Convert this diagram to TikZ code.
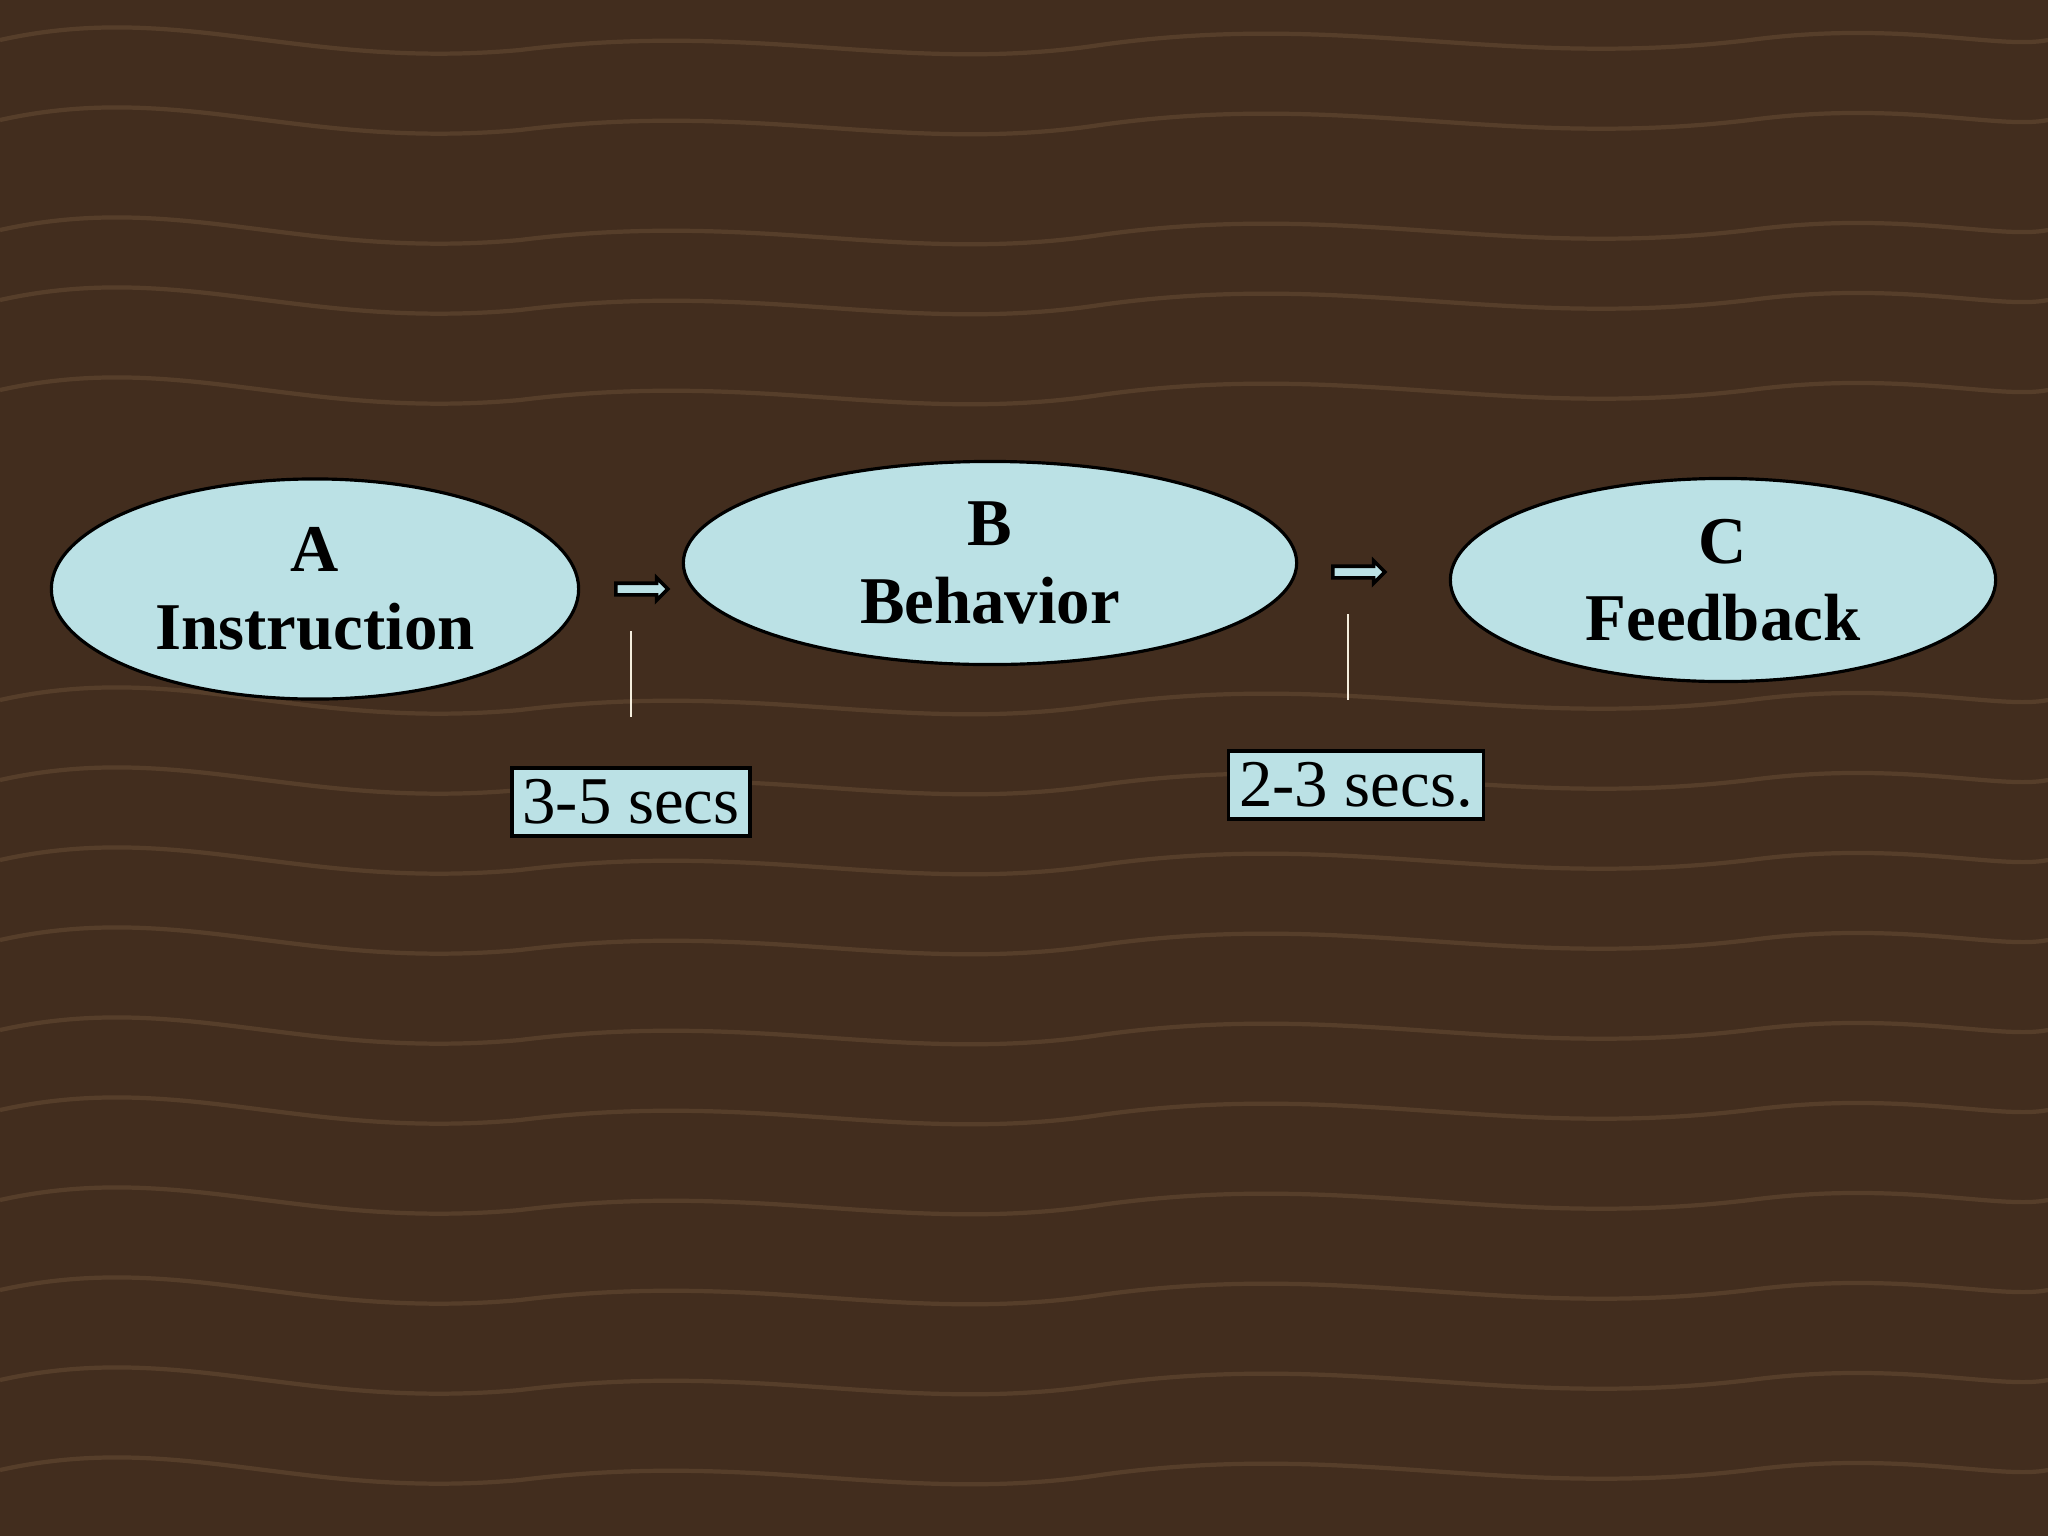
\documentclass[tikz,border=0pt]{standalone}
\usepackage{fontspec}
\setmainfont{Liberation Serif}
\usetikzlibrary{shapes.geometric, shapes.arrows, positioning}

\definecolor{wood}{RGB}{66,45,30}
\definecolor{grain}{RGB}{112,84,58}
\definecolor{paleblue}{RGB}{187,225,229}
\definecolor{cream}{RGB}{245,238,222}

\tikzset{
  stage/.style = {ellipse, draw = black, line width = 0.9pt, fill = paleblue,
                  inner sep = 0pt, align = center,
                  font = \fontsize{19}{22}\selectfont\bfseries},
  delaybox/.style = {rectangle, draw = black, line width = 0.9pt, fill = paleblue,
                  inner sep = 0pt, font = \fontsize{19}{22}\selectfont},
  blockarrow/.style = {single arrow, draw = black, line width = 1pt, fill = paleblue,
                  inner sep = 0.04cm, single arrow head extend = 0.055cm,
                  minimum height = 0.52cm, anchor = west},
  tick/.style = {draw = cream, line width = 0.7pt}
}

\begin{document}
\begin{tikzpicture}[x = 0.01cm, y = -0.01cm]
	% background
	\fill[wood] (0,0) rectangle (2048,1536);
	\useasboundingbox (0,0) rectangle (2048,1536);
	\foreach \yy in {40,120,230,300,390,700,780,860,940,1030,1110,1200,1290,1380,1470} {
		\draw[grain, opacity = 0.45, line width = 1.2pt]
			(0,\yy) .. controls (180,\yy-40) and (300,\yy+30) .. (520,\yy+10)
			        .. controls (760,\yy-20) and (900,\yy+35) .. (1100,\yy+5)
			        .. controls (1350,\yy-30) and (1500,\yy+30) .. (1750,\yy)
			        .. controls (1900,\yy-20) and (2000,\yy+10) .. (2048,\yy);
	}

	% stages
	\node[stage, minimum width = 5.27cm, minimum height = 2.20cm] (instr) at (315,589) {A\\Instruction};
	\node[stage, minimum width = 6.13cm, minimum height = 2.03cm] (behav) at (990,563) {B\\Behavior};
	\node[stage, minimum width = 5.45cm, minimum height = 2.03cm] (feedb) at (1723,580) {C\\Feedback};

	% arrows
	\node[blockarrow] (arrAB) at (614,589) {};
	\node[blockarrow] (arrBC) at (1331,572) {};

	% delay labels
	\coordinate (tickAtop) at (631,631);
	\coordinate (tickAbot) at (631,717);
	\coordinate (tickBtop) at (1348,614);
	\coordinate (tickBbot) at (1348,700);
	\draw[tick] (tickAtop) -- (tickAbot);
	\draw[tick] (tickBtop) -- (tickBbot);

	\node[delaybox, minimum width = 2.38cm, minimum height = 0.68cm] (delayAB) at (631,802) {3-5 secs};
	\node[delaybox, minimum width = 2.55cm, minimum height = 0.68cm] (delayBC) at (1356,785) {2-3 secs.};
\end{tikzpicture}
\end{document}
